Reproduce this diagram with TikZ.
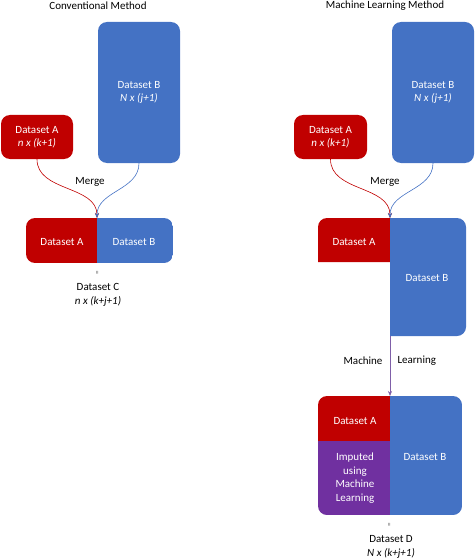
\documentclass[tikz,border=0pt]{standalone}
\usepackage{fontspec}
\setmainfont{Carlito}
\usepackage{graphicx}
\usetikzlibrary{positioning,arrows.meta}
\definecolor{datared}{HTML}{C00000}
\definecolor{datablue}{HTML}{4472C4}
\definecolor{datapurple}{HTML}{7030A0}
\definecolor{linepurple}{HTML}{7F5FA8}

\begin{document}
\begin{tikzpicture}[x=1pt,y=1pt,
    font=\fontsize{11}{13.5}\selectfont,
    box/.style={rounded corners=9pt, text=white, align=center, inner sep=0pt},
    redbox/.style={box, fill=datared},
    bluebox/.style={box, fill=datablue},
    lbl/.style={text=white, align=center},
    merge/.style={line width=0.6pt, -{Stealth[length=5pt,width=4pt]}},
    eqmark/.style={text=black!70, font=\fontsize{7}{7}\selectfont}
]
\useasboundingbox (0,0) rectangle (474,-559);

% Titles
\node (titleC) at (98,-6) {Conventional Method};
\node (titleML) at (385,-6) {Machine Learning Method};

% Conventional method
\node[bluebox, minimum width=82pt, minimum height=141pt] (convB) at (139,-92.5) {Dataset B\\\textit{N x (j+1)}};
\node[redbox, minimum width=72pt, minimum height=44pt] (convA) at (37,-137) {Dataset A\\\textit{n x (k+1)}};

\begin{scope}
    \clip[rounded corners=9pt] (26,-218) rectangle (173,-263);
    \fill[datared] (26,-218) rectangle (97,-263);
    \fill[datablue] (97,-218) rectangle (173,-263);
\end{scope}
\node[lbl] (convA2) at (62,-242) {Dataset A};
\node[lbl] (convB2) at (134,-242) {Dataset B};
\coordinate (convM) at (97,-218);

\draw[datared, merge] (convA.south) to[out=-90,in=90] (convM);
\draw[datablue, merge] (convB.south) to[out=-90,in=90] (convM);
\node (mergeC) at (90,-182) {Merge};

\node[eqmark] (eqC) at (98,-273) {\rotatebox{90}{=}};
\node (nameC) at (98,-287) {Dataset C};
\node (dimC) at (98,-301) {\textit{n x (k+j+1)}};

% Machine learning method
\node[bluebox, minimum width=82pt, minimum height=141pt] (mlB) at (433,-92.5) {Dataset B\\\textit{N x (j+1)}};
\node[redbox, minimum width=73pt, minimum height=44pt] (mlA) at (330.5,-137) {Dataset A\\\textit{n x (k+1)}};

\fill[datared] (390,-262) -- (318,-262) [rounded corners=9pt] -- (318,-218) [sharp corners] -- (390,-218) -- cycle;
\fill[datablue] (390,-218) [rounded corners=9pt] -- (466,-218) -- (466,-336) [sharp corners] -- (390,-336) -- cycle;
\node[lbl] (mlA2) at (354,-242) {Dataset A};
\node[lbl] (mlB2) at (427,-278) {Dataset B};
\coordinate (mlM) at (390,-218);
\coordinate (mlBot) at (390,-336);

\draw[datared, merge] (mlA.south) to[out=-90,in=90] (mlM);
\draw[datablue, merge] (mlB.south) to[out=-90,in=90] (mlM);
\node (mergeML) at (385,-182) {Merge};

\begin{scope}
    \clip[rounded corners=9pt] (318,-396) rectangle (462,-515);
    \fill[datared] (318,-396) rectangle (390,-441);
    \fill[datapurple] (318,-441) rectangle (390,-515);
    \fill[datablue] (390,-396) rectangle (462,-515);
\end{scope}
\coordinate (mlTop) at (390,-396);
\node[lbl] (mlA3) at (355,-421) {Dataset A};
\node[lbl] (mlImp) at (355,-478) {Imputed\\using\\Machine\\Learning};
\node[lbl] (mlB3) at (425,-457) {Dataset B};

\draw[linepurple, merge] (mlBot) -- (mlTop);
\node[anchor=east] (mlLabL) at (386,-361) {Machine};
\node[anchor=west] (mlLabR) at (394,-361) {Learning};

\node[eqmark] (eqD) at (390,-525) {\rotatebox{90}{=}};
\node (nameD) at (391,-539) {Dataset D};
\node (dimD) at (391,-553) {\textit{N x (k+j+1)}};
\end{tikzpicture}
\end{document}
